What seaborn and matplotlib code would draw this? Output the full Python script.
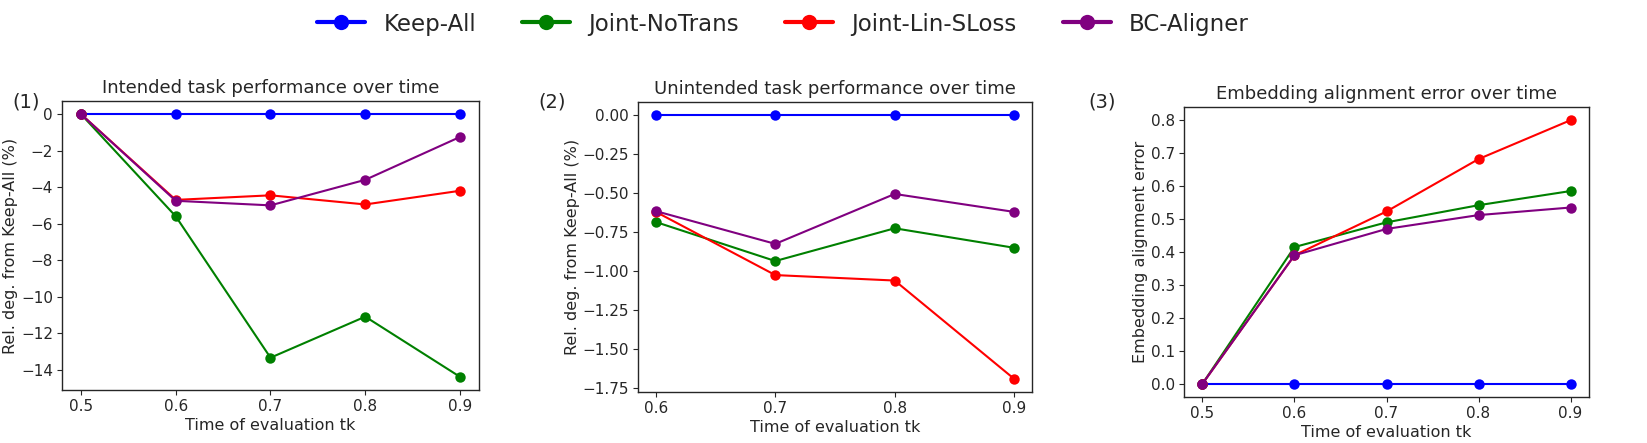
import matplotlib
matplotlib.use("Agg")
import matplotlib.pyplot as plt
import seaborn as sns
import pandas as pd

methods = ["Keep-All", "Joint-NoTrans", "Joint-Lin-SLoss", "BC-Aligner"]
colors = ["blue", "green", "red", "purple"]

t1 = [0.5, 0.6, 0.7, 0.8, 0.9]
p1_keep = [0, 0, 0, 0, 0]
p1_notrans = [0, -5.6, -13.35, -11.1, -14.4]
p1_linsloss = [0, -4.7, -4.45, -4.95, -4.2]
p1_bc = [0, -4.75, -5.0, -3.6, -1.25]

t2 = [0.6, 0.7, 0.8, 0.9]
p2_keep = [0, 0, 0, 0]
p2_notrans = [-0.685, -0.935, -0.725, -0.85]
p2_linsloss = [-0.62, -1.025, -1.06, -1.69]
p2_bc = [-0.615, -0.825, -0.505, -0.62]

t3 = [0.5, 0.6, 0.7, 0.8, 0.9]
p3_keep = [0, 0, 0, 0, 0]
p3_notrans = [0, 0.415, 0.49, 0.542, 0.585]
p3_linsloss = [0, 0.39, 0.523, 0.682, 0.80]
p3_bc = [0, 0.39, 0.47, 0.512, 0.535]

titles = ["Intended task performance over time",
          "Unintended task performance over time",
          "Embedding alignment error over time"]
ylabels = ["Rel. deg. from Keep-All (%)", "Rel. deg. from Keep-All (%)",
           "Embedding alignment error"]
xlabel = "Time of evaluation tk"
panel_tags = ["(1)", "(2)", "(3)"]


def make_df(t, series):
    rows = []
    for m, vals in zip(methods, series):
        for x, y in zip(t, vals):
            rows.append({"t": x, "v": y, "method": m})
    return pd.DataFrame(rows)


dfs = [make_df(t1, [p1_keep, p1_notrans, p1_linsloss, p1_bc]),
       make_df(t2, [p2_keep, p2_notrans, p2_linsloss, p2_bc]),
       make_df(t3, [p3_keep, p3_notrans, p3_linsloss, p3_bc])]
xticks = [t1, t2, t3]

sns.set_style("ticks")
plt.rcParams["font.family"] = ["DejaVu Sans"]
plt.rcParams["axes.linewidth"] = 1.0

fig = plt.figure(figsize=(16.47, 4.43), dpi=100)
W, H = 1647, 443
boxes = [(62, 101, 479, 390), (638, 102, 1032, 392), (1184, 107, 1589, 397)]
tagpos = [(12, 102), (538, 102), (1088, 102)]
palette = dict(zip(methods, colors))

axes = []
for i, (l, t, r, b) in enumerate(boxes):
    ax = fig.add_axes([l / W, (H - b) / H, (r - l) / W, (b - t) / H])
    sns.lineplot(data=dfs[i], x="t", y="v", hue="method", hue_order=methods,
                 palette=palette, marker="o", markersize=7.5, markeredgewidth=0,
                 linewidth=1.5, ax=ax, legend=(i == 0))
    ax.set_xticks(xticks[i])
    ax.set_xticklabels([f"{x:.1f}" for x in xticks[i]])
    ax.set_title(titles[i], fontsize=13, pad=6)
    ax.set_xlabel(xlabel, fontsize=11.5, labelpad=3)
    ax.set_ylabel(ylabels[i], fontsize=11.5, labelpad=2)
    ax.tick_params(labelsize=11, pad=3)
    for s in ax.spines.values():
        s.set_visible(True)
    fig.text(tagpos[i][0] / W, 1 - tagpos[i][1] / H, panel_tags[i], fontsize=14,
             ha="left", va="center")
    axes.append(ax)

yt2 = [0.0, -0.25, -0.5, -0.75, -1.0, -1.25, -1.5, -1.75]
axes[1].set_yticks(yt2)
axes[1].set_yticklabels([f"{v:.2f}".replace("-", "\u2212") for v in yt2])

handles, labels = axes[0].get_legend_handles_labels()
axes[0].get_legend().remove()
for h in handles:
    h.set_linewidth(3)
    h.set_markersize(11)
fig.legend(handles, labels, loc="center", bbox_to_anchor=(783 / W, 1 - 24 / H),
           ncol=4, frameon=False, fontsize=16.5, handlelength=2.1,
           handletextpad=0.8, columnspacing=2.0)

fig.savefig("out.png", dpi=100)
